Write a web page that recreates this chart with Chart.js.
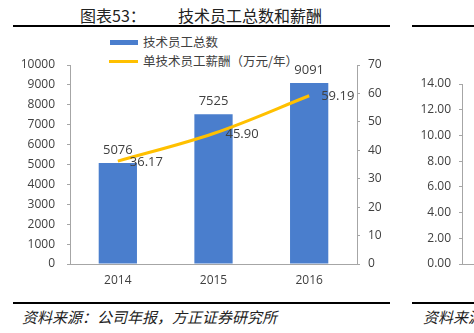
<!DOCTYPE html>
<html>
<head>
<meta charset="utf-8">
<script src="https://cdn.jsdelivr.net/npm/chart.js@4.4.1/dist/chart.umd.min.js"></script>
<style>
  html, body { margin: 0; padding: 0; background: #fff; }
  body { width: 474px; height: 333px; position: relative; overflow: hidden;
         font-family: "Noto Sans CJK SC", "Noto Sans", sans-serif; color: #000; }
  .abs { position: absolute; }
  .rule { position: absolute; height: 2px; background: #000; }
  .title { top: 5px; font-size: 16px; line-height: 20px; white-space: nowrap; color: #222; }
  .src { top: 307px; font-size: 15px; line-height: 20px; font-style: italic; white-space: nowrap; color: #222; }
  .legend { font-size: 12.5px; line-height: 16px; color: #404040; white-space: nowrap; }
  #mainWrap { left: 0; top: 0; width: 400px; height: 300px; }
  #sideWrap { left: 400px; top: 0; width: 74px; height: 300px; }
</style>
</head>
<body>
<div class="abs title" style="left:80px;">图表53：</div>
<div class="abs title" style="left:178px;">技术员工总数和薪酬</div>
<div class="rule" style="left:13px; width:377px; top:25px;"></div>
<div class="rule" style="left:412px; width:62px; top:25px;"></div>

<div class="abs" style="left:110px; top:40px; width:28px; height:5px; background:#4a7ecd;"></div>
<div class="abs legend" style="left:143px; top:34px;">技术员工总数</div>
<div class="abs" style="left:109px; top:60px; width:29px; height:3px; background:#ffc000;"></div>
<div class="abs legend" style="left:143px; top:53px;">单技术员工薪酬（万元/年）</div>

<div class="abs" id="mainWrap"><canvas id="mainChart"></canvas></div>
<div class="abs" id="sideWrap"><canvas id="sideChart"></canvas></div>

<div class="rule" style="left:13px; width:377px; top:302px;"></div>
<div class="rule" style="left:412px; width:62px; top:302px;"></div>
<div class="abs src" style="left:22px;">资料来源：公司年报，方正证券研究所</div>
<div class="abs src" style="left:423px;">资料来源</div>

<script>
const years = ['2014', '2015', '2016'];
const staffCount = [5076, 7525, 9091];
const payPerStaff = [36.17, 45.90, 59.19];
const leftTicks = [0, 1000, 2000, 3000, 4000, 5000, 6000, 7000, 8000, 9000, 10000];
const rightTicks = [0, 10, 20, 30, 40, 50, 60, 70];
const sideTicks = [0, 2, 4, 6, 8, 10, 12, 14];

const BAR_COLOR = '#4a7ecd';
const LINE_COLOR = '#ffc000';
const AXIS_COLOR = '#a6a6a6';
const TEXT_COLOR = '#404040';
const tickFont = { family: '"Open Sans", "Noto Sans", sans-serif', size: 12 };

// value labels: above bars, right of line points
const valueLabels = {
  id: 'valueLabels',
  afterDatasetsDraw(chart) {
    const ctx = chart.ctx;
    ctx.save();
    ctx.font = '13px "Open Sans", "Noto Sans", sans-serif';
    ctx.fillStyle = TEXT_COLOR;
    chart.getDatasetMeta(0).data.forEach((bar, i) => {
      ctx.textAlign = 'center';
      ctx.textBaseline = 'middle';
      ctx.fillText(String(staffCount[i]), bar.x, bar.y - 13);
    });
    chart.getDatasetMeta(1).data.forEach((pt, i) => {
      ctx.textAlign = 'left';
      ctx.textBaseline = 'middle';
      ctx.fillText(payPerStaff[i].toFixed(2), pt.x + 12, pt.y + 1);
    });
    ctx.restore();
  }
};

new Chart(document.getElementById('mainChart'), {
  data: {
    labels: years,
    datasets: [
      {
        type: 'bar',
        label: '技术员工总数',
        data: staffCount,
        backgroundColor: BAR_COLOR,
        yAxisID: 'y',
        barPercentage: 0.4,
        categoryPercentage: 1,
        order: 2
      },
      {
        type: 'line',
        label: '单技术员工薪酬（万元/年）',
        data: payPerStaff,
        borderColor: LINE_COLOR,
        borderWidth: 3,
        pointRadius: 0,
        tension: 0.35,
        yAxisID: 'y1',
        order: 1
      }
    ]
  },
  options: {
    responsive: true,
    maintainAspectRatio: false,
    animation: false,
    layout: { padding: { top: 65, left: 0, right: 0, bottom: 0 } },
    plugins: { legend: { display: false }, tooltip: { enabled: false } },
    scales: {
      x: {
        grid: { display: false, drawTicks: false },
        border: { color: AXIS_COLOR },
        ticks: { color: TEXT_COLOR, font: tickFont, padding: 9 },
        afterFit: s => { s.height = 36; }
      },
      y: {
        position: 'left',
        min: 0, max: 10000,
        afterBuildTicks: s => { s.ticks = leftTicks.map(v => ({ value: v })); },
        grid: { drawOnChartArea: false, tickLength: 3, color: AXIS_COLOR },
        border: { color: AXIS_COLOR },
        ticks: { color: TEXT_COLOR, font: tickFont, padding: 12, callback: v => String(v) },
        afterFit: s => { s.width = 70; }
      },
      y1: {
        position: 'right',
        min: 0, max: 70,
        afterBuildTicks: s => { s.ticks = rightTicks.map(v => ({ value: v })); },
        grid: { drawOnChartArea: false, tickLength: 3, color: AXIS_COLOR },
        border: { color: AXIS_COLOR },
        ticks: { color: TEXT_COLOR, font: tickFont, padding: 8, callback: v => String(v) },
        afterFit: s => { s.width = 43; }
      }
    }
  },
  plugins: [valueLabels]
});

// cut-off neighbouring chart on the right edge
new Chart(document.getElementById('sideChart'), {
  type: 'bar',
  data: { labels: [''], datasets: [] },
  options: {
    responsive: true,
    maintainAspectRatio: false,
    animation: false,
    layout: { padding: { top: 84, left: 0, right: 0, bottom: 0 } },
    plugins: { legend: { display: false }, tooltip: { enabled: false } },
    scales: {
      x: {
        grid: { display: false },
        border: { color: AXIS_COLOR },
        ticks: { display: false },
        afterFit: s => { s.height = 36; }
      },
      y: {
        min: 0, max: 14,
        afterBuildTicks: s => { s.ticks = sideTicks.map(v => ({ value: v })); },
        grid: { drawOnChartArea: false, tickLength: 3, color: AXIS_COLOR },
        border: { color: AXIS_COLOR },
        ticks: { color: TEXT_COLOR, font: tickFont, padding: 8, callback: v => Number(v).toFixed(2) },
        afterFit: s => { s.width = 62; }
      }
    }
  }
});
</script>
</body>
</html>
